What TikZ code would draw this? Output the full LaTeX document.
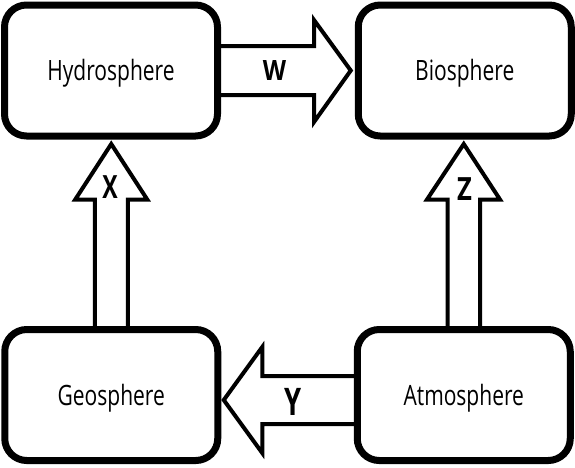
\documentclass[tikz,border=0pt]{standalone}
\usepackage{fontspec}
\setmainfont[FakeStretch=0.75]{Open Sans}
\newfontfamily\lettfont{Open Sans}
\usetikzlibrary{calc}
\begin{document}
\begin{tikzpicture}[x=1pt,y=-1pt]
\tikzset{
  sphere/.style={draw, line width=7pt, rounded corners=22pt, minimum width=213pt,
    minimum height=131pt, inner sep=0pt, outer sep=0pt, fill=white,
    font=\fontsize{28}{30}\selectfont, text height=20pt, text depth=0pt},
  blockarrow/.style={draw, line width=4pt, fill=white, line join=miter},
  lett/.style={font=\lettfont\bfseries, inner sep=0pt, text depth=0pt}
}
\useasboundingbox (0,0) rectangle (575,467);
% node placement (drawn later on top)
\path (111,70.5) coordinate (phyd) (464.75,70.5) coordinate (pbio)
      (111.25,395) coordinate (pgeo) (463.75,395) coordinate (patm);
\node[sphere, draw=none, fill=none] (hyd) at (phyd) {};
\node[sphere, draw=none, fill=none] (bio) at (pbio) {};
\node[sphere, draw=none, fill=none] (geo) at (pgeo) {};
\node[sphere, draw=none, fill=none] (atm) at (patm) {};
% W arrow
\draw[blockarrow] ($(hyd.east)+(-2,-24.5)$) -- ($(hyd.east)+(96.5,-24.5)$)
  -- ($(hyd.east)+(96.5,-50.5)$) -- ($(bio.west)+(-7.5,0)$)
  -- ($(hyd.east)+(96.5,51.5)$) -- ($(hyd.east)+(96.5,24.5)$)
  -- ($(hyd.east)+(-2,24.5)$) -- cycle;
% X arrow
\draw[blockarrow] ($(geo.north)+(-16.5,2)$) -- ($(geo.north)+(-16.5,-130)$)
  -- ($(geo.north)+(-36,-130)$) -- ($(geo.north|-hyd.south)+(0,8)$)
  -- ($(geo.north)+(36,-130)$) -- ($(geo.north)+(16.5,-130)$)
  -- ($(geo.north)+(16.5,2)$) -- cycle;
% Z arrow
\draw[blockarrow] ($(atm.north)+(-16.25,2)$) -- ($(atm.north)+(-16.25,-130)$)
  -- ($(atm.north)+(-36.75,-130)$) -- ($(atm.north|-bio.south)+(0,8)$)
  -- ($(atm.north)+(36.25,-130)$) -- ($(atm.north)+(16.25,-130)$)
  -- ($(atm.north)+(16.25,2)$) -- cycle;
% Y arrow
\coordinate (yc) at ($(atm.west)+(0,5)$);
\draw[blockarrow] ($(yc)+(2,-24)$) -- ($(yc)+(-95,-24)$)
  -- ($(yc)+(-95,-53)$) -- ($(geo.east|-yc)+(6,0)$)
  -- ($(yc)+(-95,53)$) -- ($(yc)+(-95,24)$)
  -- ($(yc)+(2,24)$) -- cycle;
% boxes on top
\node[sphere] (hydb) at (phyd) {Hydrosphere};
\node[sphere] (biob) at (pbio) {Biosphere};
\node[sphere] (geob) at (pgeo) {Geosphere};
\node[sphere] (atmb) at (patm) {Atmosphere};
% letters
\node[lett, text height=20pt] (lw) at (274.5,70) {\fontsize{28}{30}\selectfont\scalebox{0.86}[1]{W}};
\node[lett, text height=23pt] (lx) at (110,186.5) {\fontsize{32}{34}\selectfont\scalebox{0.72}[1]{X}};
\node[lett, text height=23pt] (lz) at (464.5,188.5) {\fontsize{32}{34}\selectfont\scalebox{0.8}[1]{Z}};
\node[lett, text height=27pt] (ly) at (293,401.5) {\fontsize{38}{40}\selectfont\scalebox{0.72}[1]{Y}};
\end{tikzpicture}
\end{document}
